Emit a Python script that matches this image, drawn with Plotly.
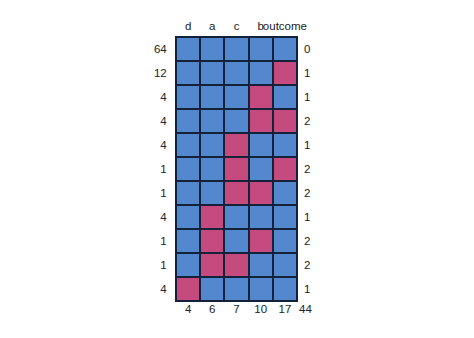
import plotly.graph_objects as go

variables = ["d", "a", "c", "b", "outcome"]
row_counts = [64, 12, 4, 4, 4, 1, 1, 4, 1, 1, 4]
# 1 = observed, 0 = missing; columns follow `variables`
patterns = [
    [1, 1, 1, 1, 1],
    [1, 1, 1, 1, 0],
    [1, 1, 1, 0, 1],
    [1, 1, 1, 0, 0],
    [1, 1, 0, 1, 1],
    [1, 1, 0, 1, 0],
    [1, 1, 0, 0, 1],
    [1, 0, 1, 1, 1],
    [1, 0, 1, 0, 1],
    [1, 0, 0, 1, 1],
    [0, 1, 1, 1, 1],
]
row_missing = [0, 1, 1, 2, 1, 2, 2, 1, 2, 2, 1]
col_missing = [4, 6, 7, 10, 17]
total_missing = 44

BLUE = "#5388CF"
RED = "#C54A7D"
LINE = "#14213A"
FONT = dict(family="Liberation Sans, Arial, sans-serif", size=11.5, color="#222222")

nrow = len(patterns)
ncol = len(variables)
xs = list(range(ncol))
ys = list(range(nrow))

fig = go.Figure()
fig.add_trace(go.Heatmap(
    z=patterns, x=xs, y=ys,
    zmin=0, zmax=1,
    colorscale=[[0, RED], [0.5, RED], [0.5, BLUE], [1, BLUE]],
    showscale=False, xgap=2, ygap=2, hoverinfo="skip",
))
# invisible trace to activate secondary axes
fig.add_trace(go.Scatter(x=[xs[0]], y=[ys[0]], xaxis="x2", yaxis="y2",
                         mode="markers", marker=dict(opacity=0), showlegend=False,
                         hoverinfo="skip"))

fig.update_layout(
    width=474, height=338,
    margin=dict(l=176, r=176.5, t=37, b=37),
    paper_bgcolor="white", plot_bgcolor=LINE,
    font=FONT, showlegend=False,
    xaxis=dict(range=[-0.5, ncol - 0.5], tickmode="array", tickvals=xs,
               ticktext=[str(v) for v in col_missing], showgrid=False, zeroline=False,
               showline=True, mirror=True, linecolor=LINE, linewidth=1,
               ticks="", ticklabelstandoff=-3, tickfont=FONT, tickangle=0,
               automargin=False),
    xaxis2=dict(range=[-0.5, ncol - 0.5], overlaying="x", side="top", tickmode="array",
                tickvals=xs, ticktext=variables, showgrid=False, zeroline=False,
                ticks="", ticklabelstandoff=4, tickfont=FONT, tickangle=0,
                automargin=False),
    yaxis=dict(range=[nrow - 0.5, -0.5], tickmode="array", tickvals=ys,
               ticktext=[str(v) for v in row_counts], showgrid=False, zeroline=False,
               showline=True, mirror=True, linecolor=LINE, linewidth=1,
               ticks="", ticklabelstandoff=6, tickfont=FONT, automargin=False),
    yaxis2=dict(range=[nrow - 0.5, -0.5], overlaying="y", side="right", tickmode="array",
                tickvals=ys, ticktext=[str(v) for v in row_missing], showgrid=False,
                zeroline=False, ticks="", ticklabelstandoff=6, tickfont=FONT,
                automargin=False),
)
fig.add_annotation(x=ncol - 0.5, y=0, xref="x", yref="paper", yanchor="top",
                   xanchor="left", text=str(total_missing), showarrow=False,
                   font=FONT, yshift=0)

fig.write_html("out.html")
